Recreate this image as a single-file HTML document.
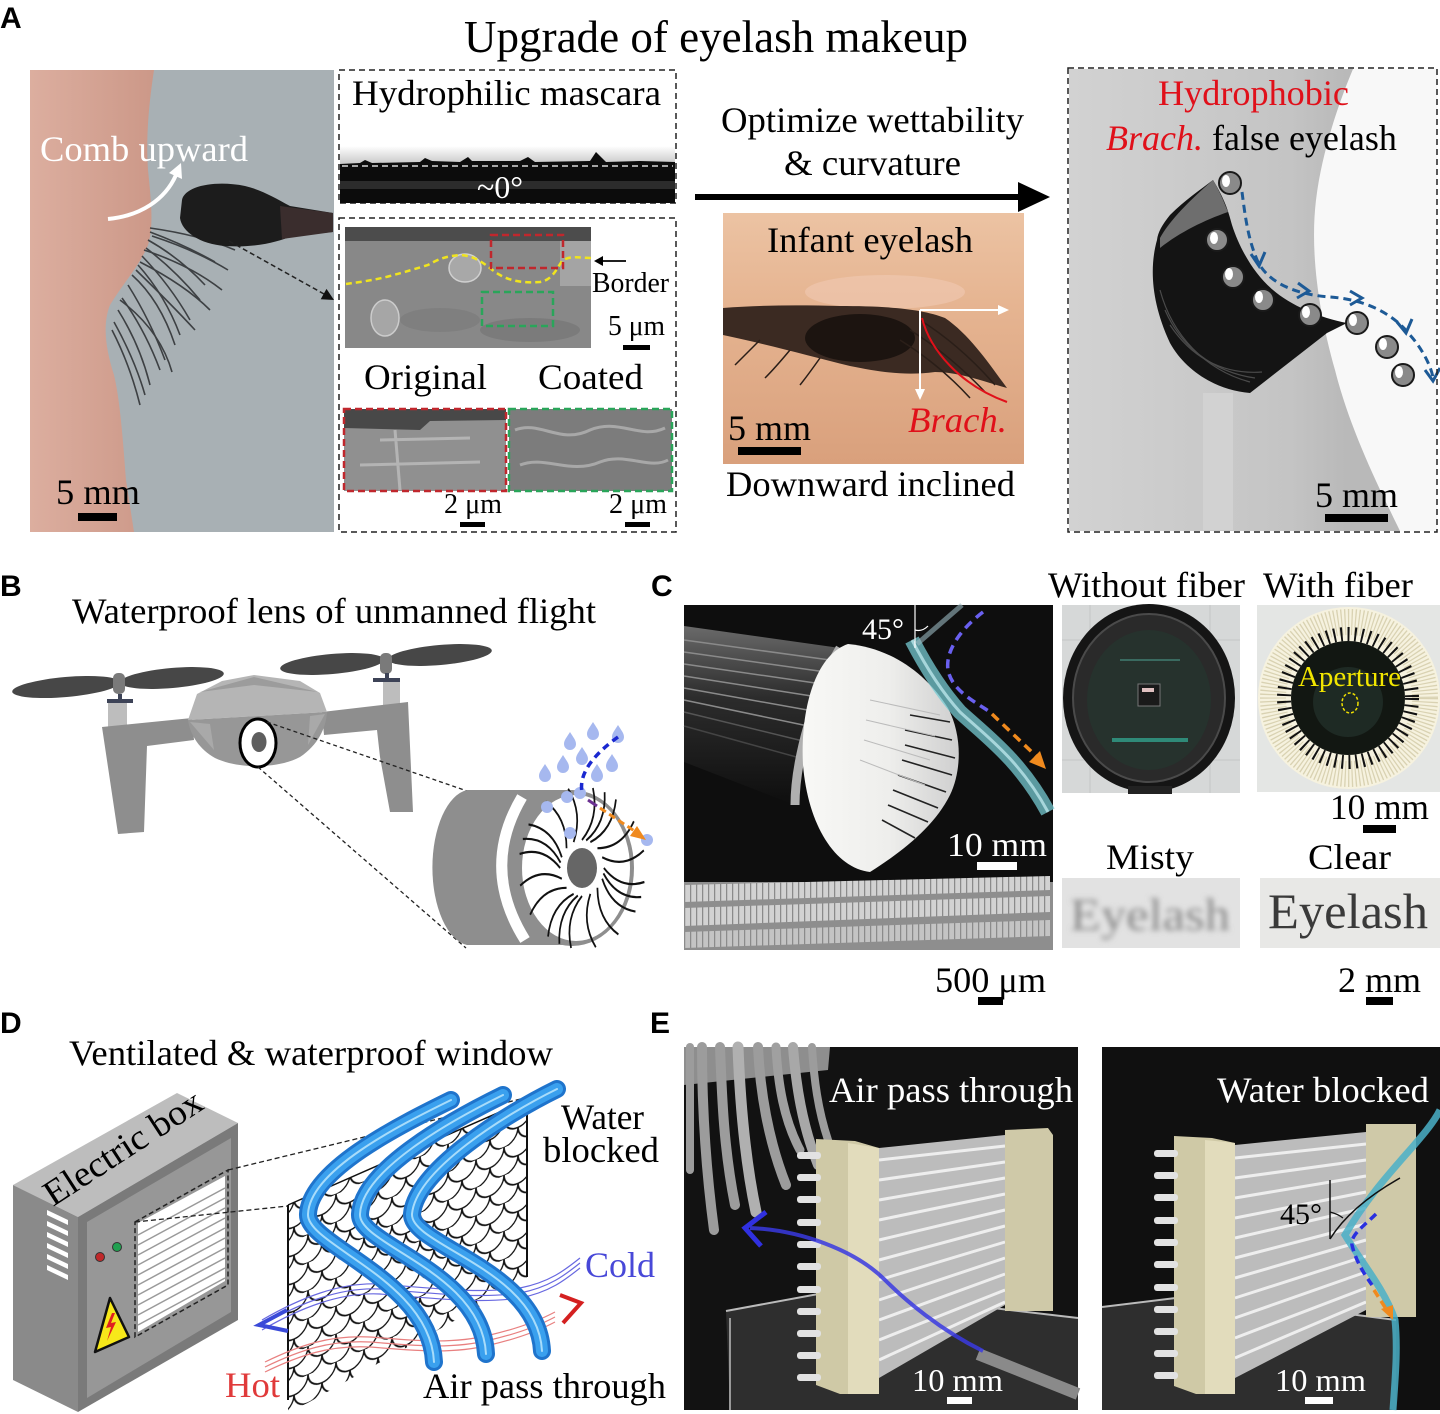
<!DOCTYPE html>
<html><head><meta charset="utf-8"><style>
html,body{margin:0;padding:0;background:#fff;}
svg{display:block;}
text{font-family:"Liberation Serif","Times New Roman",serif;}
.lab{font-family:"Liberation Sans",Arial,sans-serif;font-weight:bold;font-size:30px;}
</style></head><body>
<svg width="1440" height="1414" viewBox="0 0 1440 1414" xmlns="http://www.w3.org/2000/svg">
<defs>
<linearGradient id="skin" x1="0" x2="1" y1="0" y2="0"><stop offset="0" stop-color="#dcae9f"/><stop offset="1" stop-color="#cc9888"/></linearGradient>
<linearGradient id="haze" x1="0" x2="0" y1="0" y2="1"><stop offset="0" stop-color="#fff"/><stop offset="1" stop-color="#c8c8c8"/></linearGradient>
<linearGradient id="infant" x1="0" x2="0" y1="0" y2="1"><stop offset="0" stop-color="#ecc3a3"/><stop offset="0.35" stop-color="#e6b592"/><stop offset="1" stop-color="#d9a07c"/></linearGradient>
<linearGradient id="gA" x1="0" x2="1" y1="0" y2="0"><stop offset="0" stop-color="#d2d2d2"/><stop offset="0.6" stop-color="#c4c4c4"/><stop offset="0.75" stop-color="#b9b9b9"/></linearGradient>
<linearGradient id="barrel" x1="0" x2="0" y1="0" y2="1"><stop offset="0" stop-color="#6a6a6a"/><stop offset="0.4" stop-color="#2c2c2c"/><stop offset="1" stop-color="#0e0e0e"/></linearGradient>
<linearGradient id="disk" x1="0" x2="1" y1="0" y2="0"><stop offset="0" stop-color="#f8f8f6"/><stop offset="0.55" stop-color="#eeeeec"/><stop offset="1" stop-color="#cfcfcf"/></linearGradient>
<pattern id="ridge" width="6" height="10" patternUnits="userSpaceOnUse"><rect width="6" height="10" fill="#d2d2d2"/><line x1="0.5" y1="0" x2="0.5" y2="10" stroke="#8a8a8a" stroke-width="1.5"/></pattern>
<pattern id="scale" width="28" height="28" patternUnits="userSpaceOnUse" patternTransform="skewY(-24)">
<path d="M0,0 A14,14 0 0 0 28,0 M-14,14 A14,14 0 0 0 14,14 M14,14 A14,14 0 0 0 42,14 M0,28 A14,14 0 0 0 28,28" stroke="#111" stroke-width="1.6" fill="none"/>
</pattern>
<clipPath id="meshclip"><polygon points="288,1205 527,1100 527,1280 288,1414"/></clipPath>
<filter id="blur" x="-10%" y="-30%" width="120%" height="160%"><feGaussianBlur stdDeviation="3"/></filter>
</defs>

<!-- ===== PANEL A ===== -->
<text class="lab" x="0" y="28">A</text>
<text x="464" y="52" font-size="45" textLength="504" lengthAdjust="spacingAndGlyphs">Upgrade of eyelash makeup</text>

<rect x="30" y="70" width="304" height="462" fill="#a8b0b4"/>
<path d="M30,70 L154,70 C148,110 146,140 148,170 C151,200 154,225 148,245 C140,265 122,285 110,305 C102,325 106,350 114,375 C120,400 123,440 126,480 L134,532 L30,532 Z" fill="url(#skin)"/>
<g stroke="#3d4043" stroke-width="1.6" fill="none">
<path d="M150,232 Q185,245 215,262"/><path d="M148,240 Q180,258 205,285"/><path d="M146,248 Q175,270 200,300"/>
<path d="M142,256 Q170,285 190,320"/><path d="M138,265 Q165,295 180,335"/><path d="M132,275 Q160,300 175,345"/>
<path d="M128,285 Q150,320 165,360"/><path d="M122,298 Q145,330 160,370"/><path d="M118,310 Q140,345 150,385"/>
<path d="M114,322 Q135,360 145,395"/><path d="M112,330 Q130,365 140,405"/><path d="M150,228 Q200,235 235,250"/>
<path d="M152,236 Q195,250 228,270"/><path d="M140,262 Q185,285 210,310"/><path d="M136,270 Q172,305 195,330"/>
<path d="M144,250 Q190,265 222,290"/><path d="M120,300 Q160,330 172,372"/>
</g>
<path d="M182,200 C185,186 215,180 245,186 C262,190 275,198 290,206 L333,213 L333,232 L292,236 C278,242 255,248 225,246 C200,244 182,232 180,218 Z" fill="#1c1c1c"/>
<path d="M280,206 L333,213 L333,232 L282,239 Z" fill="#3a2d2d"/>
<path d="M108,219 C140,216 165,200 176,175" stroke="#fff" stroke-width="4" fill="none"/>
<polygon points="181,163 182,179 169,173" fill="#fff"/>
<text x="40" y="161" font-size="36" fill="#fff" textLength="208" lengthAdjust="spacingAndGlyphs">Comb upward</text>
<line x1="229" y1="241" x2="324" y2="294" stroke="#222" stroke-width="1.5" stroke-dasharray="5,3"/>
<polygon points="334,300 320.7,299.3 326.5,288.9" fill="#111"/>
<text x="56" y="504" font-size="36" textLength="84" lengthAdjust="spacingAndGlyphs">5 mm</text>
<rect x="78" y="513" width="39" height="8" fill="#000"/>

<rect x="339" y="70" width="337" height="133" fill="#fff" stroke="#222" stroke-width="1.5" stroke-dasharray="6,4"/>
<text x="352" y="105" font-size="36" textLength="309" lengthAdjust="spacingAndGlyphs">Hydrophilic mascara</text>
<rect x="340" y="146" width="335" height="18" fill="url(#haze)"/>
<path d="M340,164 L360,163 L365,160 L372,163 L420,162 L425,158 L432,161 L460,162 L468,157 L472,161 L520,161 L528,157 L535,162 L590,161 L596,152 L602,158 L606,162 L640,161 L675,162 L675,203 L340,203 Z" fill="#0c0c0c"/>
<rect x="340" y="181" width="335" height="8" fill="#3a3a3a" opacity=".7"/>
<line x1="342" y1="166" x2="673" y2="166" stroke="#fff" stroke-width="1.3" stroke-dasharray="6,4"/>
<text x="500" y="198" font-size="32" fill="#fff" text-anchor="middle">~0°</text>

<rect x="339" y="218" width="337" height="314" fill="#fff" stroke="#222" stroke-width="1.5" stroke-dasharray="6,4"/>
<rect x="345" y="227" width="246" height="121" fill="#888"/>
<rect x="345" y="227" width="246" height="14" fill="#4c4c4c"/>
<rect x="560" y="241" width="31" height="45" fill="#a4a4a4"/>
<ellipse cx="385" cy="318" rx="14" ry="18" fill="#a6a6a6" stroke="#ccc" stroke-width="1.5"/>
<ellipse cx="465" cy="268" rx="16" ry="14" fill="#a8a8a8" stroke="#d0d0d0" stroke-width="1.5"/>
<ellipse cx="440" cy="320" rx="40" ry="12" fill="#7a7a7a" opacity=".6"/>
<ellipse cx="530" cy="330" rx="50" ry="12" fill="#737373" opacity=".6"/>
<path d="M346,284 C360,282 375,280 390,276 C405,272 418,268 428,265 C440,258 448,256 460,255 C480,256 490,270 500,275 C512,282 527,283 540,282 C552,280 556,270 562,261 C570,255 580,258 591,258" stroke="#f0e41e" stroke-width="2.5" fill="none" stroke-dasharray="6,4"/>
<rect x="491" y="235" width="72" height="33" fill="none" stroke="#c0272d" stroke-width="2.5" stroke-dasharray="7,4"/>
<rect x="482" y="292" width="71" height="34" fill="none" stroke="#2aa55a" stroke-width="2.5" stroke-dasharray="7,4"/>
<line x1="626" y1="261" x2="600" y2="261" stroke="#000" stroke-width="1.8"/>
<polygon points="594,261 603,256 603,266" fill="#000"/>
<text x="592" y="292" font-size="28" textLength="77" lengthAdjust="spacingAndGlyphs">Border</text>
<text x="608" y="335" font-size="28" textLength="57" lengthAdjust="spacingAndGlyphs">5 μm</text>
<rect x="623" y="345" width="27" height="5" fill="#000"/>
<text x="364" y="389" font-size="36" textLength="123" lengthAdjust="spacingAndGlyphs">Original</text>
<text x="538" y="389" font-size="36" textLength="105" lengthAdjust="spacingAndGlyphs">Coated</text>
<rect x="344" y="409" width="162" height="82" fill="#909090"/>
<path d="M344,409 L506,409 L506,420 L430,421 L420,430 L344,428 Z" fill="#484848"/>
<path d="M380,440 L470,438 M360,465 L480,462 M395,430 L400,490" stroke="#b4b4b4" stroke-width="3" fill="none"/>
<rect x="509" y="409" width="163" height="82" fill="#7c7c7c"/>
<path d="M515,430 C540,420 560,445 590,430 C620,418 640,440 665,428 M520,465 C545,455 570,475 600,462 C625,452 650,470 668,460" stroke="#a8a8a8" stroke-width="3" fill="none"/>
<rect x="344" y="409" width="162" height="82" fill="none" stroke="#c0272d" stroke-width="2.5" stroke-dasharray="7,4"/>
<rect x="509" y="409" width="163" height="82" fill="none" stroke="#2aa55a" stroke-width="2.5" stroke-dasharray="7,4"/>
<text x="444" y="513" font-size="28" textLength="58" lengthAdjust="spacingAndGlyphs">2 μm</text>
<rect x="460" y="522" width="25" height="5" fill="#000"/>
<text x="609" y="513" font-size="28" textLength="58" lengthAdjust="spacingAndGlyphs">2 μm</text>
<rect x="625" y="522" width="25" height="5" fill="#000"/>

<text x="721" y="132" font-size="36" textLength="303" lengthAdjust="spacingAndGlyphs">Optimize wettability</text>
<text x="784" y="175" font-size="36" textLength="177" lengthAdjust="spacingAndGlyphs">&amp; curvature</text>
<line x1="695" y1="197" x2="1025" y2="197" stroke="#000" stroke-width="6"/>
<polygon points="1018,182 1050,197 1018,212" fill="#000"/>
<rect x="723" y="213" width="301" height="251" fill="url(#infant)"/>
<ellipse cx="885" cy="292" rx="80" ry="17" fill="#efc8b0" opacity=".65"/>
<path d="M723,308 C760,305 800,305 840,306 C880,306 920,308 945,318 C970,335 990,365 1007,388 C985,382 960,372 935,372 C905,376 880,372 850,366 C810,356 770,345 723,335 Z" fill="#3b2a22"/>
<ellipse cx="860" cy="338" rx="55" ry="24" fill="#1a120e" opacity=".9"/>
<g stroke="#2a1e18" stroke-width="1.5" fill="none">
<path d="M920,320 Q960,345 995,385"/><path d="M910,330 Q950,355 985,392"/><path d="M900,340 Q940,365 970,398"/>
<path d="M760,340 Q745,355 735,365"/><path d="M790,350 Q775,368 765,378"/><path d="M820,358 Q808,375 800,385"/>
</g>
<line x1="920" y1="310" x2="920" y2="392" stroke="#fff" stroke-width="2"/>
<polygon points="920,400 915,389 925,389" fill="#fff"/>
<line x1="920" y1="310" x2="1000" y2="310" stroke="#fff" stroke-width="2"/>
<polygon points="1009,310 998,305 998,315" fill="#fff"/>
<path d="M922,318 C930,350 960,385 1007,402" stroke="#e0101a" stroke-width="2" fill="none"/>
<text x="767" y="252" font-size="36" textLength="206" lengthAdjust="spacingAndGlyphs">Infant eyelash</text>
<text x="908" y="432" font-size="36" font-style="italic" fill="#e0101a" textLength="99" lengthAdjust="spacingAndGlyphs">Brach.</text>
<text x="728" y="440" font-size="36" textLength="83" lengthAdjust="spacingAndGlyphs">5 mm</text>
<rect x="738" y="447" width="63" height="8" fill="#000"/>
<text x="726" y="496" font-size="36" textLength="289" lengthAdjust="spacingAndGlyphs">Downward inclined</text>

<rect x="1069" y="69" width="368" height="462" fill="url(#gA)"/>
<path d="M1353,69 L1437,69 L1437,531 L1400,531 C1380,490 1350,430 1335,370 C1318,310 1310,250 1316,200 C1322,150 1340,100 1353,69 Z" fill="#f8f8f8"/>
<rect x="1203" y="393" width="30" height="137" fill="#d8d8d8" opacity=".6"/>
<path d="M1157,240 C1150,265 1150,300 1170,343 C1185,370 1215,390 1250,393 L1327,333 L1347,323 C1320,318 1290,305 1273,290 C1255,275 1240,250 1232,225 C1228,210 1225,200 1213,180 C1200,190 1185,200 1170,215 C1162,225 1158,232 1157,240 Z" fill="#141414"/>
<path d="M1160,238 C1170,220 1190,200 1213,180 C1220,192 1224,202 1228,212 C1205,220 1180,232 1160,248 Z" fill="#6e6e6e"/>
<g stroke="#4a4a4a" stroke-width="1.2" fill="none">
<path d="M1160,290 C1172,335 1205,370 1250,382"/><path d="M1165,310 C1180,345 1212,372 1255,378"/><path d="M1170,325 C1190,355 1220,375 1262,372"/>
</g>
<g fill="#8a8a8a" stroke="#1a1a1a" stroke-width="2">
<circle cx="1230" cy="183" r="11"/><circle cx="1217" cy="240" r="11"/><circle cx="1233" cy="277" r="11"/><circle cx="1263" cy="300" r="11"/>
<circle cx="1310" cy="315" r="11"/><circle cx="1357" cy="323" r="11"/><circle cx="1387" cy="347" r="11"/><circle cx="1403" cy="375" r="11"/>
</g>
<g fill="#fff">
<ellipse cx="1226" cy="181" rx="4" ry="6"/><ellipse cx="1214" cy="238" rx="4" ry="6"/><ellipse cx="1229" cy="274" rx="4" ry="6"/><ellipse cx="1259" cy="297" rx="4" ry="6"/>
<ellipse cx="1306" cy="312" rx="4" ry="6"/><ellipse cx="1353" cy="320" rx="4" ry="6"/><ellipse cx="1383" cy="344" rx="4" ry="6"/><ellipse cx="1399" cy="372" rx="4" ry="6"/>
</g>
<path d="M1242,192 C1245,215 1248,240 1258,262 C1270,285 1300,295 1330,297 C1360,299 1390,310 1410,335 C1425,352 1432,370 1433,378" stroke="#1d5a96" stroke-width="3" fill="none" stroke-dasharray="8,5"/>
<g stroke="#1d5a96" stroke-width="3" fill="none">
<polyline points="1251,254 1259,266 1265,252"/><polyline points="1298,283 1309,291 1297,298"/><polyline points="1350,291 1362,298 1350,305"/>
<polyline points="1397,322 1406,333 1412,319"/><polyline points="1425,370 1433,381 1440,368"/>
</g>
<rect x="1068" y="68" width="369" height="464" fill="none" stroke="#222" stroke-width="1.5" stroke-dasharray="6,4"/>
<text x="1158" y="105" font-size="36" fill="#e0101a" textLength="191" lengthAdjust="spacingAndGlyphs">Hydrophobic</text>
<text x="1106" y="150" font-size="36"><tspan font-style="italic" fill="#e0101a">Brach.</tspan><tspan fill="#000"> false eyelash</tspan></text>
<text x="1315" y="507" font-size="36" textLength="83" lengthAdjust="spacingAndGlyphs">5 mm</text>
<rect x="1325" y="514" width="63" height="8" fill="#000"/>

<!-- ===== PANEL B ===== -->
<text class="lab" x="0" y="596">B</text>
<text x="72" y="623" font-size="36" textLength="524" lengthAdjust="spacingAndGlyphs">Waterproof lens of unmanned flight</text>
<g fill="#474747">
<ellipse cx="66" cy="687" rx="54" ry="10" transform="rotate(-5 66 687)"/>
<ellipse cx="172" cy="678" rx="52" ry="10" transform="rotate(-5 172 678)"/>
<ellipse cx="332" cy="664" rx="52" ry="10" transform="rotate(-5 332 664)"/>
<ellipse cx="440" cy="655" rx="52" ry="10" transform="rotate(-5 440 655)"/>
</g>
<rect x="113" y="673" width="12" height="21" rx="5" fill="#7a7a7a"/>
<rect x="380" y="653" width="12" height="21" rx="5" fill="#7a7a7a"/>
<rect x="108" y="703" width="19" height="26" fill="#bdbdbd"/>
<rect x="383" y="682" width="17" height="23" fill="#bdbdbd"/>
<rect x="107" y="699" width="26" height="4" fill="#3d4357"/><rect x="118" y="694" width="4" height="6" fill="#3d4357"/>
<rect x="373" y="678" width="27" height="4" fill="#3d4357"/><rect x="385" y="673" width="4" height="6" fill="#3d4357"/>
<polygon points="102,727 192,718 194,740 147,746 144,832 118,834" fill="#8e8e8e"/>
<polygon points="322,712 408,702 413,812 390,812 380,757 377,730 324,735" fill="#8e8e8e"/>
<polygon points="188,720 197,694 222,681 254,675 300,681 320,693 327,712" fill="#b5b5b5"/>
<polygon points="200,692 254,677 318,692 254,685" fill="#9c9c9c"/>
<path d="M188,720 L327,712 C326,728 318,745 300,757 C280,768 240,770 215,758 C200,750 190,735 188,720 Z" fill="#979797"/>
<polygon points="190,722 210,724 214,750" fill="#a9a9a9"/>
<polygon points="325,714 310,716 308,745" fill="#a9a9a9"/>
<ellipse cx="258" cy="743" rx="18" ry="24" fill="#fff" stroke="#000" stroke-width="3"/>
<ellipse cx="259" cy="742" rx="7.5" ry="10" fill="#5e5e5e"/>
<line x1="267" y1="722" x2="470" y2="792" stroke="#222" stroke-width="1.3" stroke-dasharray="4,3"/>
<line x1="258" y1="767" x2="466" y2="948" stroke="#222" stroke-width="1.3" stroke-dasharray="4,3"/>
<path d="M467,790 L572,790 L572,945 L467,945 A39,78 0 0 1 467,790 Z" fill="#8e8e8e"/>
<ellipse cx="572" cy="868" rx="62" ry="78" fill="#8e8e8e"/>
<ellipse cx="576" cy="868" rx="54" ry="73" fill="#fff"/>
<path d="M522,797 Q480,868 525,940" stroke="#fff" stroke-width="11" fill="none"/>
<ellipse cx="582" cy="868" rx="15" ry="20" fill="#666"/>
<g transform="translate(582,868) scale(0.78,1)" stroke="#111" stroke-width="2.2" fill="none">
<path id="fb" d="M0,-28 Q22,-50 14,-80"/>
<use href="#fb" transform="rotate(22.5)"/><use href="#fb" transform="rotate(45)"/><use href="#fb" transform="rotate(67.5)"/>
<use href="#fb" transform="rotate(90)"/><use href="#fb" transform="rotate(112.5)"/><use href="#fb" transform="rotate(135)"/>
<use href="#fb" transform="rotate(157.5)"/><use href="#fb" transform="rotate(180)"/><use href="#fb" transform="rotate(202.5)"/>
<use href="#fb" transform="rotate(225)"/><use href="#fb" transform="rotate(247.5)"/><use href="#fb" transform="rotate(270)"/>
<use href="#fb" transform="rotate(292.5)"/><use href="#fb" transform="rotate(315)"/><use href="#fb" transform="rotate(337.5)"/>
<use href="#fb" transform="rotate(11)"/><use href="#fb" transform="rotate(101)"/><use href="#fb" transform="rotate(191)"/><use href="#fb" transform="rotate(281)"/>
</g>
<g fill="#a6b8ef">
<path d="M545,764 C548,769 551,772 551,776 A6,6 0 0 1 539,776 C539,772 542,769 545,764 Z"/>
<path d="M563,755 C566,760 569,763 569,767 A6,6 0 0 1 557,767 C557,763 560,760 563,755 Z"/>
<path d="M570,732 C573,737 576,740 576,744 A6,6 0 0 1 564,744 C564,740 567,737 570,732 Z"/>
<path d="M582,747 C585,752 588,755 588,759 A6,6 0 0 1 576,759 C576,755 579,752 582,747 Z"/>
<path d="M593,722 C596,727 599,730 599,734 A6,6 0 0 1 587,734 C587,730 590,727 593,722 Z"/>
<path d="M597,764 C600,769 603,772 603,776 A6,6 0 0 1 591,776 C591,772 594,769 597,764 Z"/>
<path d="M612,754 C615,759 618,762 618,766 A6,6 0 0 1 606,766 C606,762 609,759 612,754 Z"/>
<path d="M618,725 C621,730 624,733 624,737 A6,6 0 0 1 612,737 C612,733 615,730 618,725 Z"/>
<circle cx="547" cy="807" r="6"/><circle cx="567" cy="797" r="6"/><circle cx="580" cy="793" r="6"/><circle cx="570" cy="833" r="6"/><circle cx="647" cy="840" r="6"/>
</g>
<path d="M618,737 C600,750 578,770 582,792" stroke="#1a28d0" stroke-width="3.5" fill="none" stroke-dasharray="7,5"/>
<path d="M588,800 L597,806" stroke="#6a3090" stroke-width="3"/>
<path d="M600,808 L636,832" stroke="#f08a1e" stroke-width="3" fill="none" stroke-dasharray="7,4"/>
<polygon points="646,840 630,836 637,826" fill="#f08a1e"/>

<!-- ===== PANEL C ===== -->
<text class="lab" x="651" y="596">C</text>
<rect x="684" y="605" width="369" height="277" fill="#0e0e0e"/>
<path d="M684,626 L840,648 C815,690 795,760 795,805 L684,762 Z" fill="url(#barrel)"/>
<g stroke="#8a8a8a" stroke-width="1.5">
<line x1="684" y1="640" x2="830" y2="660"/><line x1="684" y1="652" x2="826" y2="672"/><line x1="684" y1="664" x2="822" y2="684"/>
<line x1="684" y1="676" x2="818" y2="697"/><line x1="684" y1="688" x2="813" y2="711"/><line x1="684" y1="700" x2="808" y2="726"/>
<line x1="684" y1="712" x2="803" y2="741" stroke="#555"/><line x1="684" y1="726" x2="800" y2="758" stroke="#444"/>
</g>
<path d="M840,648 C815,690 795,760 795,805" stroke="#b0b0b0" stroke-width="9" fill="none"/>
<path d="M848,644 C890,648 925,672 948,708 C962,735 962,770 950,795 C935,825 905,850 870,872 C835,868 808,825 803,765 C800,710 815,655 848,644 Z" fill="url(#disk)"/>
<g stroke="#222" stroke-width="1.6">
<line x1="905" y1="730" x2="952" y2="740"/><line x1="905" y1="745" x2="955" y2="758"/><line x1="902" y1="760" x2="952" y2="775"/>
<line x1="898" y1="775" x2="946" y2="792"/><line x1="893" y1="790" x2="938" y2="808"/><line x1="888" y1="805" x2="928" y2="822"/>
<line x1="882" y1="820" x2="915" y2="838"/><line x1="910" y1="715" x2="950" y2="722"/>
</g>
<g stroke="#bbb" stroke-width="1">
<line x1="870" y1="700" x2="940" y2="715"/><line x1="866" y1="720" x2="935" y2="736"/><line x1="864" y1="740" x2="930" y2="760"/><line x1="860" y1="760" x2="925" y2="785"/>
</g>
<path d="M912,640 C925,665 940,690 960,712 C985,735 1020,760 1048,812" stroke="#76c9d2" stroke-width="15" fill="none" opacity=".75"/>
<path d="M912,640 C925,665 940,690 960,712 C985,735 1020,760 1048,812" stroke="#c8f0f4" stroke-width="3" fill="none" opacity=".7"/>
<line x1="917" y1="644" x2="962" y2="605" stroke="#9ab8c0" stroke-width="5" opacity=".6"/>
<line x1="915" y1="605" x2="915" y2="648" stroke="#fff" stroke-width="1.2"/>
<path d="M915,630 Q922,632 928,626" stroke="#fff" stroke-width="1.2" fill="none"/>
<text x="862" y="639" font-size="30" fill="#fff">45°</text>
<path d="M983,612 C962,628 945,650 948,670 C952,690 972,700 990,712" stroke="#6a60f0" stroke-width="3.5" fill="none" stroke-dasharray="9,6"/>
<path d="M992,714 L1036,756" stroke="#f08a1e" stroke-width="3.5" fill="none" stroke-dasharray="9,6"/>
<polygon points="1046,769 1029,762 1040,751" fill="#f08a1e"/>
<text x="947" y="856" font-size="34" fill="#fff" textLength="100" lengthAdjust="spacingAndGlyphs">10 mm</text>
<rect x="977" y="862" width="40" height="8" fill="#fff"/>
<rect x="684" y="882" width="369" height="68" fill="#8e8e8e"/>
<path d="M684,885 L1050,876 L1050,890 L684,902 Z" fill="url(#ridge)"/>
<path d="M684,908 L1050,896 L1050,912 L684,926 Z" fill="url(#ridge)"/>
<path d="M684,932 L1050,920 L1050,936 L684,948 Z" fill="url(#ridge)" opacity=".8"/>
<text x="935" y="992" font-size="36" textLength="111" lengthAdjust="spacingAndGlyphs">500 μm</text>
<rect x="978" y="997" width="25" height="8" fill="#000"/>

<text x="1048" y="597" font-size="36" textLength="197" lengthAdjust="spacingAndGlyphs">Without fiber</text>
<text x="1263" y="597" font-size="36" textLength="150" lengthAdjust="spacingAndGlyphs">With fiber</text>
<rect x="1062" y="605" width="178" height="188" fill="#d6d8d8"/>
<g stroke="#c4c6c6" stroke-width="1"><line x1="1062" y1="760" x2="1240" y2="760"/><line x1="1062" y1="640" x2="1240" y2="640"/><line x1="1090" y1="605" x2="1090" y2="793"/><line x1="1210" y1="605" x2="1210" y2="793"/></g>
<ellipse cx="1149" cy="698" rx="86" ry="94" fill="#151515"/>
<ellipse cx="1149" cy="698" rx="76" ry="84" fill="#2a2a2a" stroke="#4a4a4a" stroke-width="2"/>
<ellipse cx="1149" cy="700" rx="62" ry="70" fill="#26322d"/>
<line x1="1112" y1="740" x2="1188" y2="740" stroke="#2f8a78" stroke-width="4"/>
<line x1="1120" y1="660" x2="1180" y2="660" stroke="#3a6a60" stroke-width="2"/>
<rect x="1138" y="684" width="22" height="22" fill="#1a1a1a" stroke="#777" stroke-width="1"/>
<rect x="1142" y="688" width="12" height="4" fill="#e0c0c0"/>
<rect x="1128" y="786" width="44" height="8" fill="#222"/>

<rect x="1257" y="605" width="183" height="187" fill="#e4e6e4"/>
<circle cx="1349" cy="698" r="91" fill="#f6f2df"/>
<circle cx="1349" cy="698" r="76" fill="none" stroke="#d9d2b2" stroke-width="26" stroke-dasharray="1.2 2.2"/>
<circle cx="1348" cy="698" r="64" fill="none" stroke="#111" stroke-width="14" stroke-dasharray="2 5"/>
<circle cx="1348" cy="698" r="57" fill="#121712"/>
<circle cx="1348" cy="702" r="35" fill="#1e2a24"/>
<text x="1298" y="686" font-size="29" fill="#f2e600" textLength="103" lengthAdjust="spacingAndGlyphs">Aperture</text>
<ellipse cx="1350" cy="703" rx="8" ry="10" fill="none" stroke="#f0e000" stroke-width="1.5" stroke-dasharray="3,2"/>
<text x="1330" y="819" font-size="36" textLength="99" lengthAdjust="spacingAndGlyphs">10 mm</text>
<rect x="1363" y="825" width="33" height="8" fill="#000"/>
<text x="1106" y="869" font-size="36" textLength="88" lengthAdjust="spacingAndGlyphs">Misty</text>
<text x="1308" y="869" font-size="36" textLength="83" lengthAdjust="spacingAndGlyphs">Clear</text>
<rect x="1062" y="878" width="178" height="70" fill="#e2e2e2"/>
<text x="1070" y="930" font-size="46" fill="#888" filter="url(#blur)" textLength="160" lengthAdjust="spacingAndGlyphs">Eyelash</text>
<rect x="1260" y="878" width="180" height="70" fill="#e8e8e6"/>
<text x="1268" y="928" font-size="50" fill="#3a3a3a" textLength="160" lengthAdjust="spacingAndGlyphs">Eyelash</text>
<text x="1338" y="992" font-size="36" textLength="83" lengthAdjust="spacingAndGlyphs">2 mm</text>
<rect x="1366" y="997" width="27" height="8" fill="#000"/>

<!-- ===== PANEL D ===== -->
<text class="lab" x="0" y="1033">D</text>
<text x="69" y="1065" font-size="36" textLength="484" lengthAdjust="spacingAndGlyphs">Ventilated &amp; waterproof window</text>
<polygon points="13,1185 177,1093 238,1123 78,1217" fill="#bdbdbd"/>
<polygon points="13,1185 78,1217 78,1412 13,1380" fill="#8a8a8a"/>
<polygon points="78,1217 238,1123 238,1320 78,1412" fill="#7a7a7a"/>
<polygon points="87,1222 231,1138 231,1312 87,1398" fill="#979797"/>
<g fill="#fff">
<polygon points="47,1210 68,1220 68,1225 47,1215"/><polygon points="47,1221 68,1231 68,1236 47,1226"/><polygon points="47,1232 68,1242 68,1247 47,1237"/>
<polygon points="47,1243 68,1253 68,1258 47,1248"/><polygon points="47,1254 68,1264 68,1269 47,1259"/><polygon points="47,1265 68,1275 68,1280 47,1270"/>
</g>
<circle cx="100" cy="1257" r="4.5" fill="#c0282a" stroke="#333" stroke-width="1"/>
<circle cx="117" cy="1247" r="4.5" fill="#20a050" stroke="#333" stroke-width="1"/>
<path d="M110,1298 L129,1337 L95,1352 Z" fill="#f7e81a" stroke="#111" stroke-width="2.5" stroke-linejoin="round"/>
<polygon points="112,1313 106,1328 111,1327 107,1341 116,1322 111,1323 115,1313" fill="#e02020"/>
<polygon points="138,1223 225,1176 225,1281 138,1332" fill="#fff"/>
<g stroke="#9a9a9a" stroke-width="1.5">
<line x1="138" y1="1235" x2="225" y2="1188"/><line x1="138" y1="1245" x2="225" y2="1198"/><line x1="138" y1="1255" x2="225" y2="1208"/>
<line x1="138" y1="1265" x2="225" y2="1218"/><line x1="138" y1="1275" x2="225" y2="1228"/><line x1="138" y1="1285" x2="225" y2="1238"/>
<line x1="138" y1="1295" x2="225" y2="1248"/><line x1="138" y1="1305" x2="225" y2="1258"/><line x1="138" y1="1315" x2="225" y2="1268"/>
<line x1="138" y1="1325" x2="225" y2="1278"/>
</g>
<polygon points="135,1222 228,1170 228,1285 135,1337" fill="none" stroke="#222" stroke-width="1.5" stroke-dasharray="5,3"/>
<text transform="translate(53,1207) rotate(-33)" font-size="36" textLength="182" lengthAdjust="spacingAndGlyphs">Electric box</text>
<line x1="228" y1="1170" x2="529" y2="1097" stroke="#222" stroke-width="1.3" stroke-dasharray="5,3"/>
<line x1="135" y1="1222" x2="288" y2="1206" stroke="#222" stroke-width="1.3" stroke-dasharray="5,3"/>
<rect x="280" y="1090" width="260" height="330" fill="url(#scale)" clip-path="url(#meshclip)"/>
<line x1="288" y1="1205" x2="288" y2="1400" stroke="#111" stroke-width="2"/>
<line x1="527" y1="1100" x2="527" y2="1277" stroke="#111" stroke-width="2"/>
<line x1="288" y1="1205" x2="527" y2="1100" stroke="#111" stroke-width="1.5"/>
<g stroke="#e88080" stroke-width="1.2" fill="none">
<path d="M265,1362 C300,1345 330,1335 370,1337 C410,1340 450,1345 490,1335 C520,1328 540,1320 555,1312"/>
<path d="M265,1367 C300,1350 330,1340 370,1342 C410,1345 450,1350 490,1340 C520,1333 540,1325 555,1317"/>
<path d="M265,1372 C300,1355 330,1345 370,1347 C410,1350 450,1355 490,1345 C520,1338 540,1330 555,1322"/>
</g>
<polyline points="560,1295 581,1303 563,1323" stroke="#d42020" stroke-width="4" fill="none"/>
<g stroke="#6868e0" stroke-width="1.2" fill="none">
<path d="M262,1320 C300,1298 340,1282 380,1284 C430,1288 480,1294 520,1288 C550,1282 565,1270 580,1258"/>
<path d="M262,1325 C300,1303 340,1287 380,1289 C430,1293 480,1299 520,1293 C550,1287 565,1275 580,1263"/>
<path d="M262,1330 C300,1308 340,1292 380,1294 C430,1298 480,1304 520,1298 C550,1292 565,1280 580,1268"/>
</g>
<polyline points="287,1310 259,1325 288,1331" stroke="#3a4ad8" stroke-width="4" fill="none"/>
<g fill="none" stroke-linecap="round">
<g stroke="#1f74cc" stroke-width="18">
<path d="M451,1100 C400,1125 310,1170 308,1214 C306,1245 430,1280 434,1362"/>
<path d="M503,1095 C452,1120 362,1170 360,1214 C358,1245 482,1272 486,1354"/>
<path d="M557,1089 C506,1114 416,1170 412,1214 C410,1245 538,1270 542,1351"/>
</g>
<g stroke="#3aa0ee" stroke-width="12">
<path d="M451,1100 C400,1125 310,1170 308,1214 C306,1245 430,1280 434,1362"/>
<path d="M503,1095 C452,1120 362,1170 360,1214 C358,1245 482,1272 486,1354"/>
<path d="M557,1089 C506,1114 416,1170 412,1214 C410,1245 538,1270 542,1351"/>
</g>
<g stroke="#a8dcfa" stroke-width="2">
<path d="M451,1100 C400,1125 310,1170 308,1214 C306,1245 430,1280 434,1362"/>
<path d="M503,1095 C452,1120 362,1170 360,1214 C358,1245 482,1272 486,1354"/>
<path d="M557,1089 C506,1114 416,1170 412,1214 C410,1245 538,1270 542,1351"/>
</g>
</g>
<text x="561" y="1129" font-size="36" textLength="83" lengthAdjust="spacingAndGlyphs">Water</text>
<text x="543" y="1162" font-size="36" textLength="116" lengthAdjust="spacingAndGlyphs">blocked</text>
<text x="585" y="1277" font-size="36" fill="#4848d8" textLength="70" lengthAdjust="spacingAndGlyphs">Cold</text>
<text x="225" y="1397" font-size="36" fill="#e03a3a" textLength="55" lengthAdjust="spacingAndGlyphs">Hot</text>
<text x="423" y="1398" font-size="36" textLength="243" lengthAdjust="spacingAndGlyphs">Air pass through</text>

<!-- ===== PANEL E ===== -->
<text class="lab" x="650" y="1033">E</text>
<rect x="684" y="1047" width="394" height="363" fill="#121212"/>
<polygon points="684,1047 830,1047 828,1070 684,1085" fill="#8e8e8e"/>
<g stroke="#9c9c9c" fill="none" stroke-linecap="round">
<path d="M690,1047 L690,1170" stroke-width="8"/>
<path d="M702,1047 C702,1110 706,1170 714,1230" stroke-width="10"/>
<path d="M720,1047 C722,1100 724,1150 735,1205" stroke-width="10"/>
<path d="M738,1047 C740,1100 745,1160 756,1212" stroke-width="11" stroke="#b0b0b0"/>
<path d="M758,1047 C760,1090 768,1140 786,1185" stroke-width="10"/>
<path d="M776,1047 C778,1085 784,1120 800,1150" stroke-width="9" stroke="#a0a0a0"/>
<path d="M793,1047 C796,1085 802,1125 818,1165" stroke-width="10" stroke="#a8a8a8"/>
<path d="M812,1047 C814,1080 818,1110 828,1140" stroke-width="8"/>
</g>
<path d="M726,1311 L840,1290 L1078,1318 L1078,1410 L730,1410 Z" fill="#2e2e2e"/>
<path d="M726,1311 L840,1290 L1078,1318" stroke="#bbb" stroke-width="2" fill="none"/>
<line x1="730" y1="1318" x2="730" y2="1410" stroke="#999" stroke-width="2"/>
<polygon points="879,1148 1005,1135 1005,1305 879,1378" fill="#bcbcbc"/>
<g stroke="#f4f4f4" stroke-width="3" opacity=".9">
<line x1="879" y1="1160" x2="1005" y2="1146"/><line x1="879" y1="1180" x2="1005" y2="1162"/><line x1="879" y1="1200" x2="1005" y2="1178"/>
<line x1="879" y1="1220" x2="1005" y2="1194"/><line x1="879" y1="1240" x2="1005" y2="1210"/><line x1="879" y1="1260" x2="1005" y2="1226"/>
<line x1="879" y1="1280" x2="1005" y2="1242"/><line x1="879" y1="1300" x2="1005" y2="1258"/><line x1="879" y1="1320" x2="1005" y2="1274"/>
<line x1="879" y1="1340" x2="1005" y2="1290"/><line x1="879" y1="1360" x2="1005" y2="1302"/>
</g>
<polygon points="816,1139 855,1141 879,1148 879,1394 840,1394 816,1385" fill="#cfc9a6"/>
<polygon points="848,1143 879,1148 879,1394 848,1394" fill="#e2dcbc"/>
<polygon points="1005,1130 1048,1128 1053,1135 1053,1311 1005,1311" fill="#cfc9a8"/>
<g fill="#e2e2e2">
<rect x="797" y="1152" width="24" height="7" rx="3"/><rect x="797" y="1174" width="24" height="7" rx="3"/><rect x="797" y="1196" width="24" height="7" rx="3"/>
<rect x="797" y="1219" width="24" height="7" rx="3"/><rect x="797" y="1241" width="24" height="7" rx="3"/><rect x="797" y="1263" width="24" height="7" rx="3"/>
<rect x="797" y="1286" width="24" height="7" rx="3"/><rect x="797" y="1308" width="24" height="7" rx="3"/><rect x="797" y="1330" width="24" height="7" rx="3"/>
<rect x="797" y="1352" width="24" height="7" rx="3"/><rect x="797" y="1374" width="24" height="7" rx="3"/>
</g>
<line x1="978" y1="1354" x2="1078" y2="1394" stroke="#8a8a8a" stroke-width="12"/>
<path d="M983,1351 C940,1330 905,1300 885,1280 C855,1250 800,1230 750,1228" stroke="#3a3ae0" stroke-width="4" fill="none" opacity=".85"/>
<polyline points="766,1212 745,1228 761,1246" stroke="#3030e0" stroke-width="5" fill="none"/>
<text x="829" y="1102" font-size="36" fill="#fff" textLength="244" lengthAdjust="spacingAndGlyphs">Air pass through</text>
<text x="912" y="1391" font-size="32" fill="#fff" textLength="91" lengthAdjust="spacingAndGlyphs">10 mm</text>
<rect x="947" y="1397" width="25" height="7" fill="#fff"/>

<rect x="1102" y="1047" width="338" height="363" fill="#101010"/>
<path d="M1102,1307 L1200,1295 L1396,1320 L1396,1410 L1102,1410 Z" fill="#2e2e2e"/>
<path d="M1102,1307 L1200,1295 L1396,1320" stroke="#bbb" stroke-width="2" fill="none"/>
<polygon points="1235,1145 1366,1132 1366,1310 1235,1378" fill="#bcbcbc"/>
<g stroke="#f4f4f4" stroke-width="3" opacity=".9">
<line x1="1235" y1="1158" x2="1366" y2="1144"/><line x1="1235" y1="1178" x2="1366" y2="1160"/><line x1="1235" y1="1198" x2="1366" y2="1176"/>
<line x1="1235" y1="1218" x2="1366" y2="1192"/><line x1="1235" y1="1238" x2="1366" y2="1208"/><line x1="1235" y1="1258" x2="1366" y2="1224"/>
<line x1="1235" y1="1278" x2="1366" y2="1240"/><line x1="1235" y1="1298" x2="1366" y2="1256"/><line x1="1235" y1="1318" x2="1366" y2="1272"/>
<line x1="1235" y1="1338" x2="1366" y2="1288"/><line x1="1235" y1="1358" x2="1366" y2="1302"/>
</g>
<polygon points="1174,1136 1212,1138 1235,1143 1235,1394 1196,1394 1174,1386" fill="#cfc9a6"/>
<polygon points="1205,1140 1235,1143 1235,1394 1205,1394" fill="#e2dcbc"/>
<polygon points="1366,1124 1416,1124 1416,1317 1366,1317" fill="#cfc9a8"/>
<g fill="#e2e2e2">
<rect x="1154" y="1150" width="24" height="7" rx="3"/><rect x="1154" y="1172" width="24" height="7" rx="3"/><rect x="1154" y="1194" width="24" height="7" rx="3"/>
<rect x="1154" y="1217" width="24" height="7" rx="3"/><rect x="1154" y="1239" width="24" height="7" rx="3"/><rect x="1154" y="1261" width="24" height="7" rx="3"/>
<rect x="1154" y="1284" width="24" height="7" rx="3"/><rect x="1154" y="1306" width="24" height="7" rx="3"/><rect x="1154" y="1328" width="24" height="7" rx="3"/>
<rect x="1154" y="1350" width="24" height="7" rx="3"/><rect x="1154" y="1372" width="24" height="7" rx="3"/>
</g>
<path d="M1440,1110 C1425,1140 1380,1175 1345,1235 C1360,1260 1385,1290 1395,1320 C1398,1350 1395,1380 1393,1410" stroke="#4ab0c8" stroke-width="7" fill="none" opacity=".85"/>
<line x1="1330" y1="1180" x2="1330" y2="1239" stroke="#111" stroke-width="1.5"/>
<path d="M1330,1239 C1345,1215 1370,1195 1400,1178" stroke="#111" stroke-width="1.5" fill="none"/>
<path d="M1330,1212 Q1338,1214 1343,1218" stroke="#111" stroke-width="1.2" fill="none"/>
<text x="1280" y="1224" font-size="30" fill="#000">45°</text>
<path d="M1376,1214 C1365,1225 1350,1235 1352,1245 C1356,1262 1365,1275 1372,1285" stroke="#2a30e0" stroke-width="3.5" fill="none" stroke-dasharray="8,5"/>
<path d="M1374,1290 L1388,1312" stroke="#f08a1e" stroke-width="3.5" fill="none" stroke-dasharray="8,5"/>
<polygon points="1393,1320 1381,1309 1393,1305" fill="#f08a1e"/>
<text x="1217" y="1102" font-size="36" fill="#fff" textLength="212" lengthAdjust="spacingAndGlyphs">Water blocked</text>
<text x="1275" y="1391" font-size="32" fill="#fff" textLength="91" lengthAdjust="spacingAndGlyphs">10 mm</text>
<rect x="1305" y="1397" width="28" height="7" fill="#fff"/>
</svg>
</body></html>
